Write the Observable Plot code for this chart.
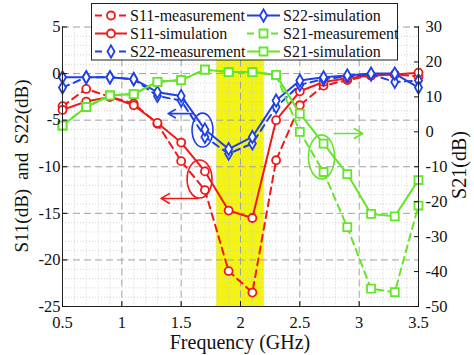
<!DOCTYPE html>
<html><head><meta charset="utf-8">
<script src="https://cdn.jsdelivr.net/npm/d3@7"></script>
<script src="https://cdn.jsdelivr.net/npm/@observablehq/plot@0.6"></script>
<style>
html,body{margin:0;padding:0;background:#fff;}
#chart svg{display:block;font-family:"Liberation Serif","Times New Roman",serif;}
</style></head><body><div id="chart"></div>
<script>
// ---------- data ----------
const freq     = [0.5,0.7,0.9,1.1,1.3,1.5,1.7,1.9,2.1,2.3,2.5,2.7,2.9,3.1,3.3,3.5];
const s11Meas  = [-3.5,-1.65,-2.5,-3.2,-5.4,-9.4,-12.5,-21.2,-23.5,-9.3,-3.4,-1.3,-0.7,-0.2,-0.1,-0.3];
const s11Sim   = [-3.9,-3.0,-2.5,-3.4,-5.3,-7.4,-10.5,-14.7,-15.5,-5.0,-1.9,-0.9,-0.5,-0.2,-0.1,0.1];
const s22Meas  = [-1.5,-0.4,-0.4,-0.6,-2.4,-2.9,-6.8,-8.6,-7.5,-3.6,-1.2,-0.6,-0.3,-0.1,-0.9,-0.75];
const s22Sim   = [-0.4,-0.4,-0.4,-0.6,-2.0,-2.4,-6.0,-8.1,-6.8,-2.9,-0.75,-0.4,-0.2,0,0,-1.5];
const s21Meas  = [1.8,7.1,10.4,10.8,14.3,14.8,17.8,17.1,17.1,16.3,0,-11.5,-27.3,-44.9,-45.9,-21.1];
const s21Sim   = [1.8,7.1,10.4,10.8,14.3,14.8,17.8,17.1,17.1,16.3,5.2,-3.4,-12.1,-23.5,-24.2,-13.8];

const xTicks      = [0.5,1,1.5,2,2.5,3,3.5];
const yTicksLeft  = [-25,-20,-15,-10,-5,0,5];
const yTicksRight = [-50,-40,-30,-20,-10,0,10,20,30];
const xMinor = d3.range(5,36).map(d=>d/10);
const yMinor = d3.range(-25,6);
const bandGHz = [1.8, 2.2];

const seriesNames = ["S11-measurement","S11-simulation","S22-measurement","S22-simulation","S21-measurement","S21-simulation"];

// annotations (ellipse centres / radii in data units; S21 ones in S21 dB)
const ellipses = [
  {f:1.684, v:-6.12, rf:0.088, rv:1.82, axis:"left", c:"blue"},
  {f:1.659, v:-11.37, rf:0.105, rv:2.04, axis:"left", c:"red"},
  {f:2.687, v:-7.33, rf:0.11, rv:6.3, axis:"right", c:"green"}
];
const arrows = [
  {f1:1.60, v1:-4.3, f2:1.39, v2:-4.3, axis:"left", c:"blue"},
  {f1:1.64, v1:-13.4, f2:1.33, v2:-13.4, axis:"left", c:"red"},
  {f1:2.79, v1:-0.5, f2:3.03, v2:-0.5, axis:"right", c:"green"}
];

// ---------- style ----------
const RED="#f01818", BLUE="#1e40e6", GREEN="#64e628", YELLOW="#f4f414";
const colors = {red:RED, blue:BLUE, green:GREEN};
const DASH="7,5";
// right axis (S21, -50..30) shares the frame with left axis (-25..5)
const toLeft = s => (s*3 - 50)/8;
const conv = (v, axis) => axis === "right" ? toLeft(v) : v;

const styles = [
  {vals:s11Meas, color:RED,  dash:DASH, symbol:"circle",  r:4,   axis:"left"},
  {vals:s11Sim,  color:RED,  dash:null, symbol:"circle",  r:4,   axis:"left"},
  {vals:s22Meas, color:BLUE, dash:DASH, symbol:"diamond", r:3.7, axis:"left"},
  {vals:s22Sim,  color:BLUE, dash:null, symbol:"diamond", r:3.7, axis:"left"},
  {vals:s21Meas, color:GREEN,dash:DASH, symbol:"square",  r:4.5, axis:"right"},
  {vals:s21Sim,  color:GREEN,dash:null, symbol:"square",  r:4.5, axis:"right"}
];

const marks = [];
marks.push(Plot.rect([bandGHz], {x1:d=>d[0], x2:d=>d[1], fill:YELLOW}));
marks.push(Plot.ruleX(xMinor.filter(d=>!xTicks.includes(d)), {stroke:"#c8c8c8", strokeDasharray:"1,2", strokeWidth:0.8}));
marks.push(Plot.ruleY(yMinor.filter(d=>!yTicksLeft.includes(d)), {stroke:"#c8c8c8", strokeDasharray:"1,2", strokeWidth:0.8}));
marks.push(Plot.ruleX(xTicks, {stroke:"#a0a0a0", strokeDasharray:"7,4", strokeWidth:1}));
marks.push(Plot.ruleY(yTicksLeft, {stroke:"#a0a0a0", strokeDasharray:"7,4", strokeWidth:1}));

styles.forEach((s,k)=>{
  const rows = freq.map((f,i)=>({f, v: conv(s.vals[i], s.axis), name: seriesNames[k]}));
  marks.push(Plot.line(rows, {x:"f", y:"v", stroke:s.color, strokeWidth:2, strokeDasharray:s.dash}));
  marks.push(Plot.dot(rows, {x:"f", y:"v", symbol:s.symbol, r:s.r, stroke:s.color, fill:"white", strokeWidth:1.8}));
});

marks.push(Plot.arrow(arrows, {x1:"f1", y1:d=>conv(d.v1,d.axis), x2:"f2", y2:d=>conv(d.v2,d.axis),
  stroke:d=>colors[d.c], strokeWidth:1.6, headLength:9}));

marks.push(Plot.ruleX([xTicks[0], xTicks[xTicks.length-1]], {stroke:"#222", strokeWidth:1}));
marks.push(Plot.ruleY([yTicksLeft[0]], {stroke:"#222", strokeWidth:1}));

marks.push(Plot.axisX({ticks:xTicks, tickSize:-5, tickPadding:15, fontSize:16.5, tickFormat:d=>String(d), label:null}));
marks.push(Plot.axisY({ticks:yTicksLeft, anchor:"left", tickSize:-5, tickPadding:7, fontSize:16.5, tickFormat:d=>String(d), label:null}));
marks.push(Plot.axisY({ticks:yTicksRight.map(toLeft), anchor:"right", tickSize:-5, tickPadding:12, fontSize:16.5,
  tickFormat:d=>String(Math.round(d*8/3+50/3)), label:null}));

const chart = Plot.plot({
  width:474, height:355,
  marginLeft:62, marginRight:56, marginTop:26.5, marginBottom:49,
  x:{domain:[0.5,3.5]},
  y:{domain:[-25,5]},
  style:{fontFamily:"'Liberation Serif','Times New Roman',serif", color:"#111", background:"white"},
  marks
});
document.getElementById("chart").appendChild(chart);

// ---------- annotations (ellipses) ----------
const svg = d3.select(chart);
const xs = chart.scale("x"), ys = chart.scale("y");
const gE = svg.append("g");
ellipses.forEach(e=>{
  const cx = xs.apply(e.f), cy = ys.apply(conv(e.v,e.axis));
  const rx = Math.abs(xs.apply(e.f+e.rf)-cx);
  const ry = Math.abs(ys.apply(conv(e.v+e.rv,e.axis))-cy);
  gE.append("ellipse").attr("cx",cx).attr("cy",cy).attr("rx",rx).attr("ry",ry)
    .attr("fill","none").attr("stroke",colors[e.c]).attr("stroke-width",1.6);
});

// ---------- axis titles ----------
svg.append("text").attr("x",240).attr("y",349).attr("text-anchor","middle")
  .attr("font-size",20).attr("fill","#111").text("Frequency (GHz)");
svg.append("text").attr("transform","translate(21,166) rotate(-90)").attr("text-anchor","middle")
  .attr("dy","0.35em").attr("font-size",19).attr("word-spacing","4px").attr("fill","#111").text("S11(dB) and S22(dB)");
svg.append("text").attr("transform","translate(459,165) rotate(-90)").attr("text-anchor","middle")
  .attr("dy","0.35em").attr("font-size",20).attr("fill","#111").text("S21(dB)");

// ---------- legend ----------
const lg = svg.append("g");
lg.append("rect").attr("x",91.5).attr("y",3.5).attr("width",306).attr("height",56.5)
  .attr("fill","white").attr("stroke","#222").attr("stroke-width",1);
const cols = [{x1:95,x2:127,tx:130},{x1:247,x2:280,tx:283}];
const rowY = [15.5,33.5,51.5];
styles.forEach((s,k)=>{
  const c = cols[Math.floor(k/3)], y = rowY[k%3];
  lg.append("line").attr("x1",c.x1).attr("x2",c.x2).attr("y1",y).attr("y2",y)
    .attr("stroke",s.color).attr("stroke-width",2).attr("stroke-dasharray",s.dash);
  const sym = {circle:d3.symbolCircle, diamond:d3.symbolDiamond, square:d3.symbolSquare}[s.symbol];
  lg.append("path").attr("d",d3.symbol(sym, Math.PI*s.r*s.r)())
    .attr("transform",`translate(${(c.x1+c.x2)/2},${y})`)
    .attr("fill","white").attr("stroke",s.color).attr("stroke-width",1.8);
  lg.append("text").attr("x",c.tx).attr("y",y).attr("dy","0.35em").attr("font-size",16)
    .attr("text-anchor","start").attr("fill","#111").text(seriesNames[k]);
});
</script></body></html>
